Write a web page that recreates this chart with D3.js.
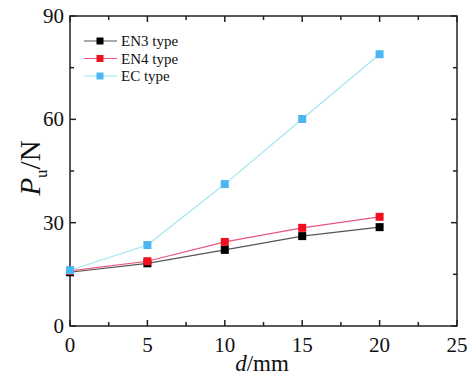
<!DOCTYPE html>
<html><head><meta charset="utf-8">
<script src="https://cdn.jsdelivr.net/npm/d3@7"></script>
<style>body{margin:0;background:#fff}svg{display:block}</style>
</head><body>
<script>
const xValues = [0, 5, 10, 15, 20];
const en3 = [15.6, 18.2, 22.1, 26.1, 28.7];
const en4 = [16.0, 18.8, 24.4, 28.5, 31.7];
const ec = [16.2, 23.5, 41.2, 60.1, 78.9];
const seriesNames = ["EN3 type", "EN4 type", "EC type"];
const xTicks = [0, 5, 10, 15, 20, 25];
const yTicks = [0, 30, 60, 90];

const FONT = "'Liberation Serif', 'Times New Roman', Times, serif";
const W = 474, H = 387;
const m = {l: 70, r: 17, t: 16, b: 61};
const svg = d3.select("body").append("svg").attr("width", W).attr("height", H)
  .attr("font-family", FONT).style("font-family", FONT);
const x = d3.scaleLinear().domain([0, 25]).range([m.l, W - m.r]);
const y = d3.scaleLinear().domain([0, 90]).range([H - m.b, m.t]);

const series = [
  {name: seriesNames[0], vals: en3, line: "#555", mk: "#000"},
  {name: seriesNames[1], vals: en4, line: "#e8557a", mk: "#f01020"},
  {name: seriesNames[2], vals: ec, line: "#9ee8ee", mk: "#4db6f2"}
];

const minorX = d3.range(0, 25.01, 2.5);
const minorY = d3.range(0, 90.01, 15);
const ax = svg.append("g").attr("stroke", "#222").attr("stroke-width", 1.5);
ax.append("rect").attr("x", x(0)).attr("y", y(90)).attr("width", x(25) - x(0)).attr("height", y(0) - y(90)).attr("fill", "none");
minorX.forEach(v => {
  const L = xTicks.includes(v) ? 6 : 4;
  ax.append("line").attr("x1", x(v)).attr("x2", x(v)).attr("y1", y(0)).attr("y2", y(0) - L);
  ax.append("line").attr("x1", x(v)).attr("x2", x(v)).attr("y1", y(90)).attr("y2", y(90) + L);
});
minorY.forEach(v => {
  const L = yTicks.includes(v) ? 6 : 4;
  ax.append("line").attr("x1", x(0)).attr("x2", x(0) + L).attr("y1", y(v)).attr("y2", y(v));
  ax.append("line").attr("x1", x(25)).attr("x2", x(25) - L).attr("y1", y(v)).attr("y2", y(v));
});

svg.append("g").selectAll("text").data(xTicks).join("text")
  .attr("x", d => x(d)).attr("y", y(0) + 26).attr("text-anchor", "middle")
  .attr("font-size", 21).attr("fill", "#111").style("font-family", FONT).text(d => d);
svg.append("g").selectAll("text").data(yTicks).join("text")
  .attr("x", x(0) - 6).attr("y", d => y(d) + 7).attr("text-anchor", "end")
  .attr("font-size", 21).attr("fill", "#111").style("font-family", FONT).text(d => d);

const xt = svg.append("text").attr("x", 262).attr("y", 371).attr("text-anchor", "middle").attr("font-size", 23).attr("fill", "#111").style("font-family", FONT);
xt.append("tspan").attr("font-style", "italic").text("d");
xt.append("tspan").text("/mm");
const yt = svg.append("text").attr("transform", "translate(40,168) rotate(-90)").attr("text-anchor", "middle").attr("font-size", 29).attr("fill", "#111").style("font-family", FONT);
yt.append("tspan").attr("font-style", "italic").text("P");
yt.append("tspan").attr("font-size", 17).attr("dy", 7).text("u");
yt.append("tspan").attr("dy", -7).text("/N");

const line = d3.line().x((d, i) => x(xValues[i])).y(d => y(d));
series.forEach(s => {
  svg.append("path").attr("d", line(s.vals)).attr("fill", "none").attr("stroke", s.line).attr("stroke-width", 1.2);
  svg.append("g").selectAll("rect").data(s.vals).join("rect")
    .attr("x", (d, i) => x(xValues[i]) - 4).attr("y", d => y(d) - 4)
    .attr("width", 8).attr("height", 8).attr("fill", s.mk);
});

series.forEach((s, i) => {
  const ly = 41 + i * 17.5;
  svg.append("line").attr("x1", 84).attr("x2", 117).attr("y1", ly).attr("y2", ly).attr("stroke", s.line).attr("stroke-width", 1.2);
  svg.append("rect").attr("x", 96.5).attr("y", ly - 3.5).attr("width", 7).attr("height", 7).attr("fill", s.mk);
  svg.append("text").attr("x", 121).attr("y", ly + 5).attr("font-size", 15).attr("fill", "#111").style("font-family", FONT).text(s.name);
});
</script>
</body></html>
